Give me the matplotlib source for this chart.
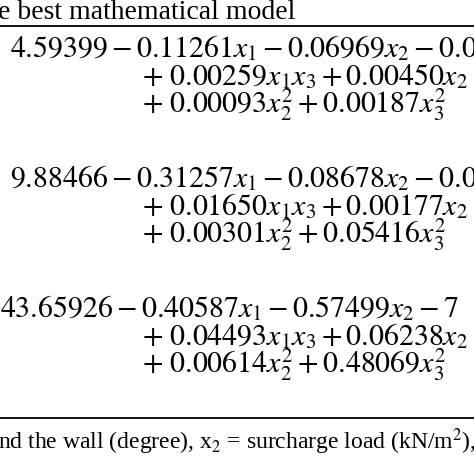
import matplotlib
matplotlib.use("Agg")
import matplotlib.pyplot as plt

plt.rcParams['mathtext.fontset'] = 'stix'
plt.rcParams['font.family'] = ['Liberation Serif', 'DejaVu Serif']

header = "e best mathematical model"
footer = r"nd the wall (degree), x$_2$ = surcharge load (kN/m$^2$),"
line1 = [r"$4.59399 - 0.11261x_1 - 0.06969x_2 - 0.0$",
         r"$9.88466 - 0.31257x_1 - 0.08678x_2 - 0.0$",
         r"$43.65926 - 0.40587x_1 - 0.57499x_2 - 7$"]
line2 = [r"$+\ 0.00259x_1x_3 + 0.00450x_2$",
         r"$+\ 0.01650x_1x_3 + 0.00177x_2$",
         r"$+\ 0.04493x_1x_3 + 0.06238x_2$"]
line3 = [r"$+\ 0.00093x_2^2 + 0.00187x_3^2$",
         r"$+\ 0.00301x_2^2 + 0.05416x_3^2$",
         r"$+\ 0.00614x_2^2 + 0.48069x_3^2$"]
x1_start = [10, 10, 0]
y_rows = [57, 187, 317]

fig = plt.figure(figsize=(4.74, 4.74), dpi=100)
ax = fig.add_axes([0, 0, 1, 1])
ax.set_xlim(0, 474); ax.set_ylim(474, 0); ax.axis('off')

ax.text(-2, 19, header, fontsize=20, va='baseline', ha='left')
ax.plot([0, 474], [26, 26], color='black', lw=1.3)
for i in range(3):
    y = y_rows[i]
    ax.text(x1_start[i], y, line1[i], fontsize=21.5, va='baseline', ha='left', clip_on=True)
    ax.text(142, y + 28, line2[i], fontsize=21.5, va='baseline', ha='left', clip_on=True)
    ax.text(142, y + 56, line3[i], fontsize=21.5, va='baseline', ha='left', clip_on=True)
ax.plot([0, 474], [418, 418], color='black', lw=1.3)
ax.text(-2, 449, footer, fontsize=17, va='baseline', ha='left')
fig.savefig("out.png", dpi=100)
